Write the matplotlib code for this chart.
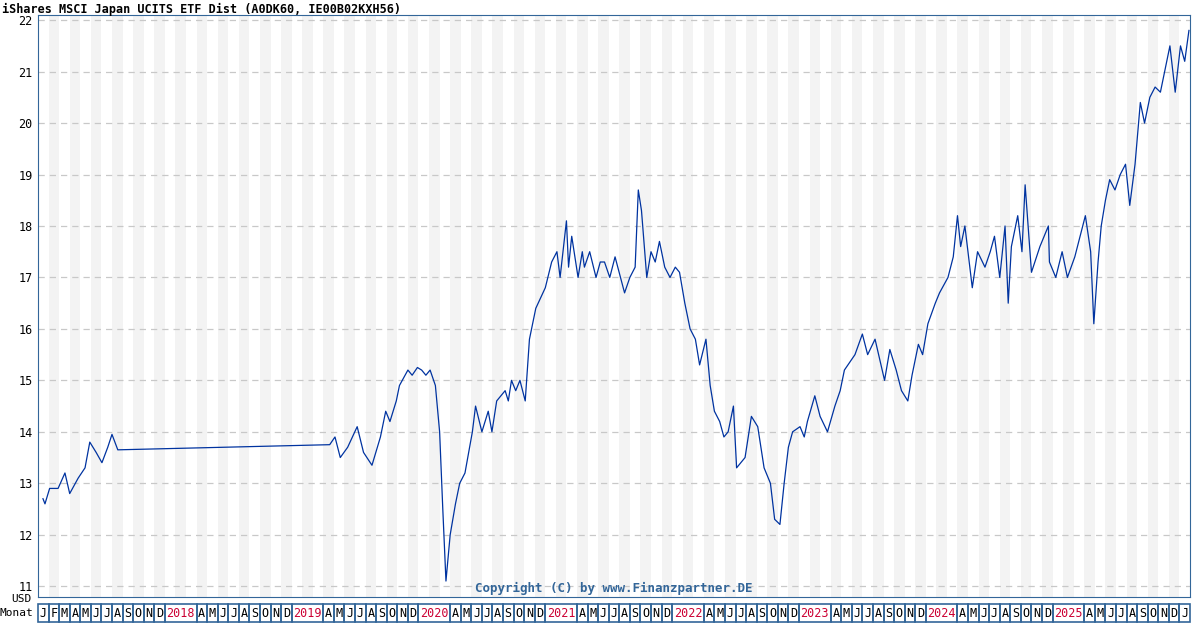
import matplotlib
matplotlib.use("Agg")
import matplotlib.pyplot as plt
from matplotlib.patches import Rectangle

title = "iShares MSCI Japan UCITS ETF Dist (A0DK60, IE00B02KXH56)"
# time in months since Jan 2017
t_months = [0.47,0.66,1.1,1.9,2.55,3.0,3.8,4.45,4.9,5.5,6.05,6.6,7.0,7.55,27.6,28.1,28.6,29.3,30.2,30.8,
 31.6,32.4,32.9,33.3,33.9,34.2,35.0,35.4,35.9,36.3,36.7,37.1,37.6,38.0,38.3,38.6,39.0,39.5,39.9,40.4,
 41.1,41.4,42.0,42.6,42.95,43.4,44.2,44.5,44.8,45.2,45.6,46.1,46.5,47.1,48.0,48.6,49.1,49.4,50.0,50.2,
 50.5,51.1,51.5,51.7,52.2,52.8,53.2,53.6,54.1,54.6,55.5,56.0,56.5,56.8,57.1,57.6,58.0,58.4,58.8,59.3,
 59.8,60.3,60.7,61.2,61.7,62.2,62.6,63.2,63.6,64.0,64.5,64.9,65.3,65.8,66.1,66.9,67.5,68.1,68.7,69.3,
 69.7,70.2,70.6,71.0,71.4,72.1,72.5,72.8,73.5,74.0,74.7,75.4,75.9,76.3,77.3,78.0,78.5,79.2,80.1,80.6,
 81.2,81.7,82.3,82.7,83.3,83.7,84.2,84.9,85.3,86.1,86.6,87.0,87.3,87.7,88.4,88.9,89.6,90.1,90.5,91.0,
 91.5,91.8,92.1,92.7,93.1,93.4,94.0,94.8,95.6,95.7,96.3,96.9,97.4,98.1,98.6,99.1,99.6,99.9,100.3,100.6,
 101.0,101.4,101.9,102.4,102.9,103.3,103.8,104.3,104.7,105.2,105.7,106.2,106.6,107.1,107.6,108.1,108.5,108.9]
prices = [12.7,12.6,12.9,12.9,13.2,12.8,13.1,13.3,13.8,13.6,13.4,13.7,13.95,13.65,13.75,13.9,13.5,13.7,14.1,13.6,
 13.35,13.9,14.4,14.2,14.6,14.9,15.2,15.1,15.25,15.2,15.1,15.2,14.9,14.0,12.5,11.1,12.0,12.6,13.0,13.2,
 14.0,14.5,14.0,14.4,14.0,14.6,14.8,14.6,15.0,14.8,15.0,14.6,15.8,16.4,16.8,17.3,17.5,17.0,18.1,17.2,
 17.8,17.0,17.5,17.2,17.5,17.0,17.3,17.3,17.0,17.4,16.7,17.0,17.2,18.7,18.3,17.0,17.5,17.3,17.7,17.2,
 17.0,17.2,17.1,16.5,16.0,15.8,15.3,15.8,14.9,14.4,14.2,13.9,14.0,14.5,13.3,13.5,14.3,14.1,13.3,13.0,
 12.3,12.2,13.0,13.7,14.0,14.1,13.9,14.2,14.7,14.3,14.0,14.5,14.8,15.2,15.5,15.9,15.5,15.8,15.0,15.6,
 15.2,14.8,14.6,15.1,15.7,15.5,16.1,16.5,16.7,17.0,17.4,18.2,17.6,18.0,16.8,17.5,17.2,17.5,17.8,17.0,
 18.0,16.5,17.6,18.2,17.5,18.8,17.1,17.6,18.0,17.3,17.0,17.5,17.0,17.4,17.8,18.2,17.5,16.1,17.3,18.0,
 18.5,18.9,18.7,19.0,19.2,18.4,19.2,20.4,20.0,20.5,20.7,20.6,21.0,21.5,20.6,21.5,21.2,21.8]
month_letters = ["J","F","M","A","M","J","J","A","S","O","N","D"]
start_year = 2017
n_months = 109
yticks = list(range(11, 23))

mono = "DejaVu Sans Mono"
edge = "#336699"
fig = plt.figure(figsize=(12, 6.3), dpi=100)
ax = fig.add_axes([38/1200, 1-597/630, 1152/1200, 582/630])
for m in range(n_months):
    if m % 2 == 1:
        ax.axvspan(m, m+1, color="#f3f3f3", lw=0, zorder=0)
ax.set_xlim(0, n_months)
ax.set_ylim(10.79, 22.1)
ax.set_yticks(yticks)
ax.set_yticklabels([str(v) for v in yticks], family=mono, fontsize=8.5)
ax.tick_params(axis="y", length=0, pad=4)
ax.set_xticks([])
ax.grid(axis="y", color="#c8c8c8", ls=(0, (5, 4)), lw=0.9)
for s in ax.spines.values():
    s.set_color(edge)
ax.plot(t_months, prices, color="#0033a0", lw=0.9, zorder=3)
ax.text(0.5, 0.003, "Copyright (C) by www.Finanzpartner.DE", transform=ax.transAxes,
        ha="center", va="bottom", family=mono, fontsize=9, fontweight="bold", color="#336699")
fig.text(2/1200, 1-9/630, title, family=mono, fontsize=8.5, fontweight="bold", va="center", ha="left")
fig.text(31/1200, 1-599/630, "USD", family=mono, fontsize=8, ha="right", va="center")

lab = fig.add_axes([38/1200, 1-622/630, 1152/1200, 18/630])
lab.set_xlim(0, n_months)
lab.set_ylim(0, 1)
lab.axis("off")
m = 0
while m < n_months:
    if m % 12 == 0 and m > 0 and m + 3 <= n_months:
        w, txt, col = 3, str(start_year + m // 12), "#cc0033"
    else:
        w, txt, col = 1, month_letters[m % 12], "black"
    lab.add_patch(Rectangle((m, 0), w, 1, fill=False, ec=edge, lw=1.2, clip_on=False))
    lab.text(m + w/2, 0.45, txt, ha="center", va="center", family=mono, fontsize=8.5, color=col)
    m += w
fig.text(33/1200, 1-613/630, "Monat", family=mono, fontsize=8, ha="right", va="center")
fig.savefig("out.png", dpi=100)
